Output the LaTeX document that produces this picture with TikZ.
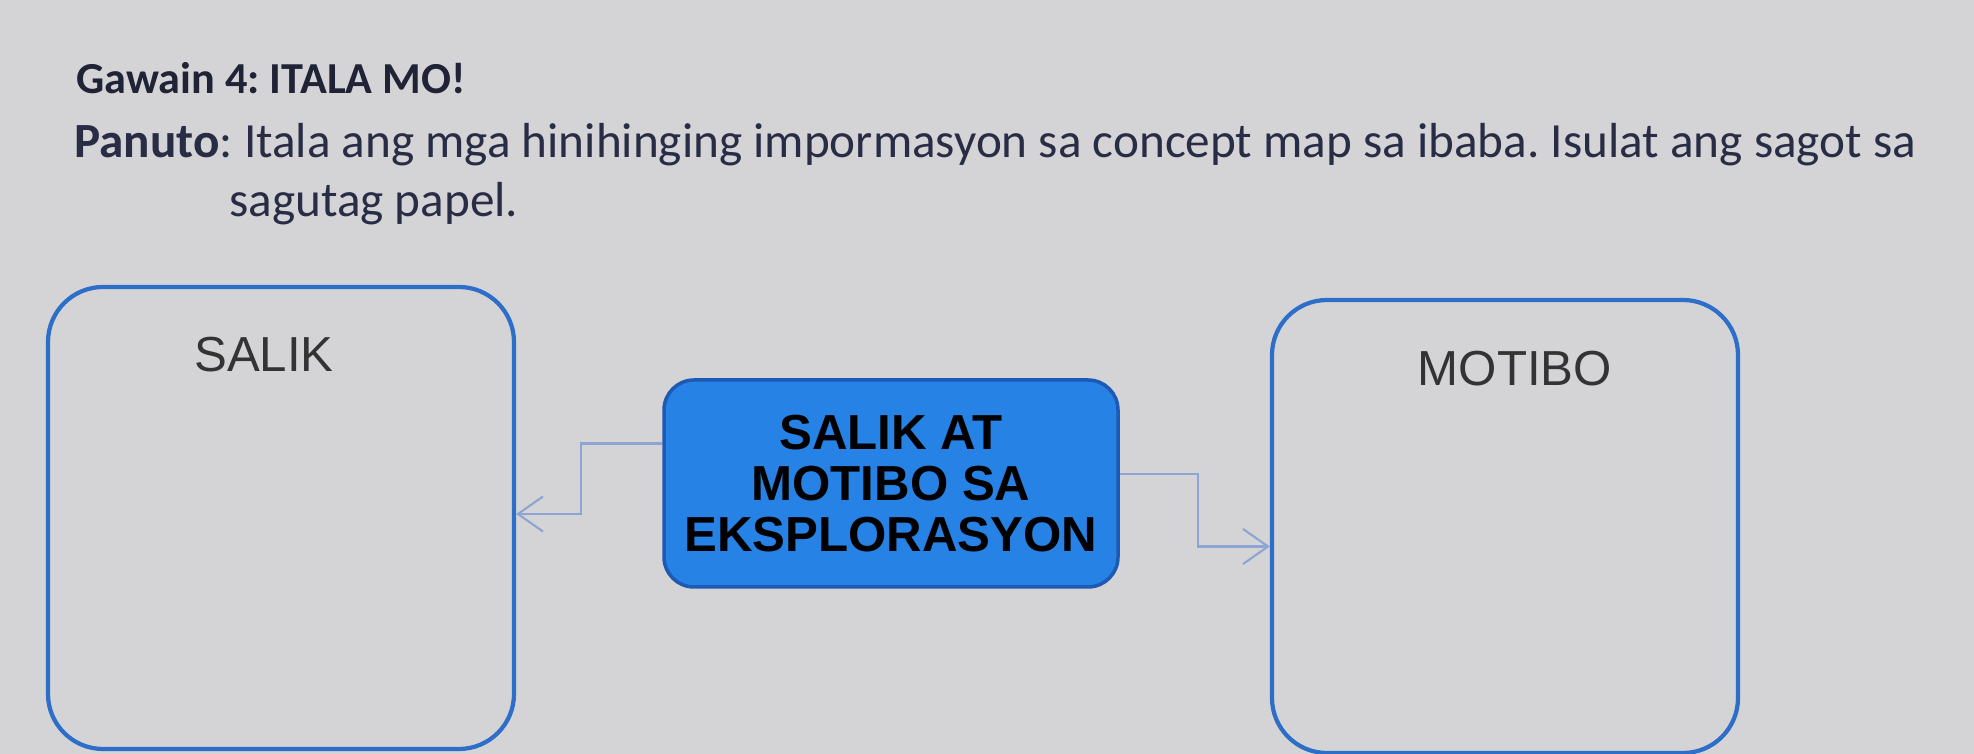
\documentclass[tikz,border=0pt]{standalone}
\usepackage{fontspec}
\setmainfont{Liberation Sans}
\newfontfamily\calibri{Carlito}
\usepackage{tikz}
\usetikzlibrary{arrows.meta}
\definecolor{screen}{RGB}{212,212,215}
\definecolor{boxblue}{RGB}{45,110,200}
\definecolor{midblue}{RGB}{38,130,228}
\definecolor{midedge}{RGB}{28,90,180}
\definecolor{linkblue}{RGB}{140,165,210}
\definecolor{ink}{RGB}{40,44,68}
\frenchspacing

\begin{document}
\begin{tikzpicture}[
    bigbox/.style={draw=boxblue,line width=1.2pt,rounded corners=0.55cm,minimum width=4.66cm},
    midbox/.style={draw=midedge,fill=midblue,line width=1pt,rounded corners=0.3cm,minimum width=4.54cm,minimum height=2.07cm},
    boxtitle/.style={text=black!80,font=\fontsize{14}{16}\selectfont},
    link/.style={draw=linkblue,line width=0.6pt,-{Straight Barb[length=2.5mm,width=3.5mm]}}]
        \fill[screen] (0,0) rectangle (19.74,7.54);
        \useasboundingbox (0,0) rectangle (19.74,7.54);

        % heading
        \node[anchor=west,text=ink!80!black,font=\calibri\bfseries\fontsize{12.6}{14}\selectfont] (gawain) at (0.64,6.76) {Gawain 4: ITALA MO!};
        \node[anchor=west,text=ink,font=\calibri\fontsize{14}{16}\selectfont] (panuto) at (0.62,6.09) {\textbf{Panuto}: Itala ang mga hinihinging impormasyon sa concept map sa ibaba. Isulat ang sagot sa};
        \node[anchor=west,text=ink,font=\calibri\fontsize{14}{16}\selectfont] (sagutag) at (2.17,5.50) {sagutag papel.};

        % concept map
        \node[bigbox,minimum height=4.62cm] (salik) at (2.81,2.36) {};
        \node[boxtitle] (saliklbl) at (2.64,3.99) {SALIK};
        \node[bigbox,minimum height=4.53cm] (motibo) at (15.05,2.275) {};
        \node[boxtitle] (motibolbl) at (15.15,3.85) {MOTIBO};
        \node[midbox,align=center,font=\bfseries\fontsize{14}{14.6}\selectfont] (mid) at (8.91,2.705) {SALIK AT\\MOTIBO SA\\EKSPLORASYON};

        \draw[link] ([yshift=4mm]mid.west) -- ++(-0.81,0) |- ([yshift=0.4mm]salik.east);
        \draw[link] ([yshift=1.15cm]mid.south east) -- ++(0.78,0) |- ([yshift=-2mm]motibo.west);
    \end{tikzpicture}
\end{document}
